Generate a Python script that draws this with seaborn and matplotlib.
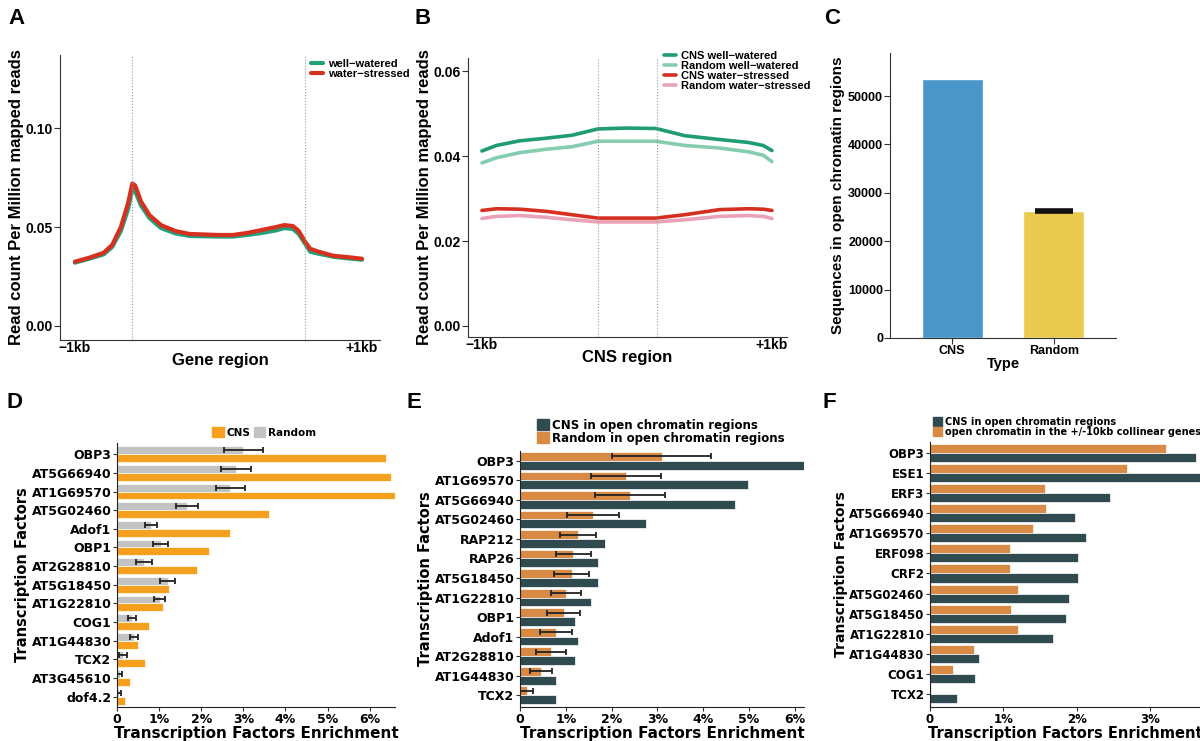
import numpy as np
import pandas as pd
import matplotlib
matplotlib.use("Agg")
import matplotlib.pyplot as plt
import seaborn as sns
from matplotlib.patches import Patch

# ---- A: gene region profile ----
gene_pos = [0, 5, 10, 13, 16, 18.5, 20, 21, 23, 26, 30, 35, 40, 50, 55, 60, 65, 70, 73, 76, 78, 80, 82, 85, 90, 95, 100]
gene_ww = [0.032, 0.034, 0.0362, 0.040, 0.048, 0.059, 0.069, 0.068, 0.061, 0.0545, 0.0495, 0.0468, 0.0455, 0.0452,
           0.0452, 0.046, 0.047, 0.0483, 0.0495, 0.049, 0.0465, 0.042, 0.0375, 0.0365, 0.035, 0.0342, 0.0335]
gene_ws = [0.0325, 0.0345, 0.037, 0.041, 0.050, 0.062, 0.072, 0.071, 0.063, 0.056, 0.051, 0.048, 0.0465, 0.046,
           0.046, 0.047, 0.0485, 0.050, 0.051, 0.0505, 0.048, 0.043, 0.039, 0.0375, 0.0355, 0.0348, 0.034]

# ---- B: CNS region profile ----
cns_pos = [0, 5, 13, 22, 31, 40, 50, 60, 70, 82, 92, 97, 100]
cns_ww = [0.0412, 0.0425, 0.0436, 0.0442, 0.0449, 0.0464, 0.0466, 0.0465, 0.0448, 0.0439, 0.0432, 0.0425, 0.0413]
rand_ww = [0.0384, 0.0396, 0.0408, 0.0416, 0.0422, 0.0435, 0.0435, 0.0435, 0.0425, 0.0419, 0.0410, 0.0402, 0.0387]
cns_ws = [0.0272, 0.0276, 0.0275, 0.0270, 0.0262, 0.0254, 0.0254, 0.0254, 0.0262, 0.0274, 0.0276, 0.0275, 0.0272]
rand_ws = [0.0253, 0.0258, 0.0260, 0.0256, 0.0250, 0.0245, 0.0245, 0.0245, 0.0250, 0.0258, 0.0260, 0.0258, 0.0253]

# ---- C: sequences in open chromatin ----
c_types = ["CNS", "Random"]
c_counts = [53500, 26250]
c_err = [0, 200]

# ---- D ----
d_tfs = ["OBP3", "AT5G66940", "AT1G69570", "AT5G02460", "Adof1", "OBP1", "AT2G28810", "AT5G18450",
         "AT1G22810", "COG1", "AT1G44830", "TCX2", "AT3G45610", "dof4.2"]
d_cns = [6.39, 6.5, 6.6, 3.62, 2.69, 2.19, 1.9, 1.23, 1.09, 0.77, 0.5, 0.66, 0.3, 0.19]
d_rand = [3.0, 2.83, 2.69, 1.66, 0.81, 1.04, 0.65, 1.2, 1.01, 0.36, 0.4, 0.14, 0.06, 0.05]
d_err = [0.47, 0.35, 0.35, 0.26, 0.15, 0.18, 0.19, 0.17, 0.13, 0.1, 0.1, 0.09, 0.06, 0.05]

# ---- E ----
e_tfs = ["OBP3", "AT1G69570", "AT5G66940", "AT5G02460", "RAP212", "RAP26", "AT5G18450", "AT1G22810",
         "OBP1", "Adof1", "AT2G28810", "AT1G44830", "TCX2"]
e_cns = [6.2, 4.98, 4.69, 2.76, 1.85, 1.7, 1.71, 1.56, 1.2, 1.27, 1.2, 0.78, 0.78]
e_rand = [3.09, 2.31, 2.4, 1.59, 1.26, 1.16, 1.13, 1.0, 0.95, 0.79, 0.67, 0.45, 0.15]
e_err = [1.09, 0.77, 0.77, 0.57, 0.39, 0.38, 0.38, 0.33, 0.37, 0.35, 0.33, 0.24, 0.14]

# ---- F ----
f_tfs = ["OBP3", "ESE1", "ERF3", "AT5G66940", "AT1G69570", "ERF098", "CRF2", "AT5G02460", "AT5G18450",
         "AT1G22810", "AT1G44830", "COG1", "TCX2"]
f_cns = [3.62, 3.68, 2.45, 1.97, 2.13, 2.02, 2.02, 1.89, 1.86, 1.67, 0.67, 0.62, 0.37]
f_col = [3.22, 2.69, 1.57, 1.58, 1.41, 1.09, 1.09, 1.2, 1.11, 1.2, 0.6, 0.32, 0.02]

sns.set_style("ticks")
plt.rcParams['font.family'] = ['Liberation Sans', 'DejaVu Sans']
plt.rcParams['font.weight'] = 'bold'
plt.rcParams['axes.labelweight'] = 'bold'
plt.rcParams['axes.edgecolor'] = '#333333'
plt.rcParams['text.color'] = 'black'
plt.rcParams['axes.labelcolor'] = 'black'
plt.rcParams['xtick.color'] = 'black'
plt.rcParams['ytick.color'] = 'black'

W, H = 1200, 741
fig = plt.figure(figsize=(W / 100, H / 100), dpi=100)


def px_axes(l, t, r, b):
    return fig.add_axes([l / W, 1 - b / H, (r - l) / W, (b - t) / H])


def profile_style(ax, xlab):
    sns.despine(ax=ax)
    ax.set_xticks([0, 100])
    ax.set_xticklabels(["\u22121kb", "+1kb"], fontsize=10)
    ax.tick_params(axis='x', length=0, pad=1)
    ax.tick_params(axis='y', length=4, labelsize=10, pad=1, color="#333333")
    ax.set_xlabel(xlab, fontsize=12, labelpad=-2)
    ax.set_ylabel("Read count Per Million mapped reads", fontsize=12, labelpad=1)


# A
axA = px_axes(60, 55, 380, 340)
dfA = pd.DataFrame({"pos": gene_pos * 2, "val": gene_ww + gene_ws,
                    "cond": ["well\u2212watered"] * len(gene_pos) + ["water\u2212stressed"] * len(gene_pos)})
sns.lineplot(data=dfA, x="pos", y="val", hue="cond", palette=["#23a07a", "#d7301f"], lw=3, ax=axA)
for v in [20, 80]:
    axA.axvline(v, color="#999999", lw=0.8, ls=":")
axA.set_xlim(-5.2, 106.3)
axA.set_ylim(-0.0071, 0.137)
axA.set_yticks([0, 0.05, 0.10])
axA.set_yticklabels(["0.00", "0.05", "0.10"])
profile_style(axA, "Gene region")
axA.legend(loc="upper left", bbox_to_anchor=(0.785, 0.985), frameon=False, fontsize=8,
           handlelength=1.1, handletextpad=0.4, labelspacing=0.0, borderaxespad=0, borderpad=0)

# B
axB = px_axes(468, 58, 787, 337)
dfB = pd.DataFrame({"pos": cns_pos * 4, "val": cns_ww + rand_ww + cns_ws + rand_ws,
                    "cond": (["CNS well\u2212watered"] * len(cns_pos) + ["Random well\u2212watered"] * len(cns_pos)
                             + ["CNS water\u2212stressed"] * len(cns_pos) + ["Random water\u2212stressed"] * len(cns_pos))})
sns.lineplot(data=dfB, x="pos", y="val", hue="cond",
             palette=["#1f9c74", "#86cdb0", "#d42f1f", "#e9a2b6"], lw=2.6, ax=axB)
for v in [40, 60.3]:
    axB.axvline(v, color="#999999", lw=0.8, ls=":")
axB.set_xlim(-4.8, 105.2)
axB.set_ylim(-0.0026, 0.0631)
axB.set_yticks([0, 0.02, 0.04, 0.06])
axB.set_yticklabels(["0.00", "0.02", "0.04", "0.06"])
profile_style(axB, "CNS region")
axB.legend(loc="upper left", bbox_to_anchor=(0.615, 1.025), frameon=False, fontsize=8,
           handlelength=1.1, handletextpad=0.4, labelspacing=0.0, borderaxespad=0, borderpad=0)

# C
axC = px_axes(890, 53, 1116, 338)
sns.barplot(x=c_types, y=c_counts, hue=c_types, palette=["#4a96c8", "#e9ca4f"], width=0.6,
            saturation=1, legend=False, ax=axC)
axC.errorbar([1], [c_counts[1]], yerr=[c_err[1]], fmt="none", ecolor="#111111",
             capsize=14, capthick=2.6, elinewidth=2.6)
sns.despine(ax=axC)
axC.set_xlim(-0.61, 1.61)
axC.set_ylim(0, 58900)
axC.set_yticks(range(0, 50001, 10000))
axC.tick_params(axis='both', length=4, labelsize=9, pad=1, color="#333333")
axC.set_xlabel("Type", fontsize=10.5, labelpad=0)
axC.set_ylabel("Sequences in open chromatin regions", fontsize=11, labelpad=2)


def tf_panel(ax, tfs, first, second, names, colors, width, xmax, xticks, err=None,
             tick_fs=9, lab_fs=10.5):
    df = pd.DataFrame({"tf": tfs * 2, "val": second + first,
                       "grp": [names[1]] * len(tfs) + [names[0]] * len(tfs)})
    sns.barplot(data=df, x="val", y="tf", hue="grp", hue_order=[names[1], names[0]], order=tfs,
                palette={names[0]: colors[0], names[1]: colors[1]}, orient="h", width=width,
                saturation=1, edgecolor="white", linewidth=0.5, legend=False, ax=ax)
    if err is not None:
        ys = [p.get_y() + p.get_height() / 2 for p in ax.containers[0]]
        ax.errorbar(second, ys, xerr=err, fmt="none", ecolor="#222222", elinewidth=1.3,
                    capsize=2.2, capthick=1.3)
    sns.despine(ax=ax)
    for s in ax.spines.values():
        s.set_color("#222222")
    ax.set_xlim(0, xmax)
    ax.set_xticks(xticks)
    ax.set_xticklabels(["0"] + [f"{t}%" for t in xticks[1:]], fontfamily="DejaVu Sans", fontsize=tick_fs)
    ax.set_yticks(range(len(tfs)))
    ax.set_yticklabels(tfs, fontfamily="DejaVu Sans", fontsize=tick_fs)
    ax.tick_params(axis='both', length=3, pad=1, color="#333333")
    ax.set_xlabel("Transcription Factors Enrichment", fontfamily="DejaVu Sans", fontsize=lab_fs + 0.5,
                  labelpad=0)
    ax.set_ylabel("Transcription Factors", fontfamily="DejaVu Sans", fontsize=lab_fs, labelpad=1)


# D
axD = px_axes(117, 443, 395, 707)
tf_panel(axD, d_tfs, d_cns, d_rand, ["CNS", "Random"], ["#f5a01e", "#c3c3c3"], 0.85, 6.6,
         [0, 1, 2, 3, 4, 5, 6], err=d_err)
axD.set_ylim(13.55, -0.6)
axD.legend(handles=[Patch(color="#f5a01e", label="CNS"), Patch(color="#c3c3c3", label="Random")],
           loc="lower center", bbox_to_anchor=(0.53, 1.02), ncol=2, frameon=False,
           prop={"family": "DejaVu Sans", "weight": "bold", "size": 7.5},
           handlelength=1.1, handleheight=1.1, handletextpad=0.3, columnspacing=0.3,
           borderaxespad=0, borderpad=0)

# E
axE = px_axes(520, 451, 804, 707)
tf_panel(axE, e_tfs, e_cns, e_rand, ["CNS in open chromatin regions", "Random in open chromatin regions"],
         ["#2f4b50", "#d98b45"], 0.9, 6.2, [0, 1, 2, 3, 4, 5, 6], err=e_err)
axE.set_ylim(12.6, -0.5)
axE.legend(handles=[Patch(color="#2f4b50", label="CNS in open chromatin regions"),
                    Patch(color="#d98b45", label="Random in open chromatin regions")],
           loc="lower left", bbox_to_anchor=(0.06, 1.025), frameon=False,
           prop={"family": "DejaVu Sans", "weight": "bold", "size": 8.5},
           handlelength=1.0, handleheight=1.0, handletextpad=0.3, labelspacing=0.0,
           borderaxespad=0, borderpad=0)

# F
axF = px_axes(930, 442, 1200, 707)
tf_panel(axF, f_tfs, f_cns, f_col, ["CNS in open chromatin regions",
                                    "open chromatin in the +/-10kb collinear genes"],
         ["#2f4b50", "#d98b45"], 0.9, 3.68, [0, 1, 2, 3], tick_fs=8.5, lab_fs=10)
axF.set_ylim(12.65, -0.55)
axF.legend(handles=[Patch(color="#2f4b50", label="CNS in open chromatin regions"),
                    Patch(color="#d98b45", label="open chromatin in the +/-10kb collinear genes")],
           loc="lower left", bbox_to_anchor=(0.01, 1.02), frameon=False,
           prop={"family": "DejaVu Sans", "weight": "bold", "size": 7},
           handlelength=1.0, handleheight=1.0, handletextpad=0.3, labelspacing=0.0,
           borderaxespad=0, borderpad=0)

# panel letters
for letter, x, y in [("A", 8, 8), ("B", 415, 8), ("C", 824, 8), ("D", 7, 392), ("E", 406, 392), ("F", 822, 392)]:
    fig.text(x / W, 1 - y / H, letter, fontsize=16, fontweight="bold", va="top", ha="left")

fig.savefig("out.png", dpi=100)
